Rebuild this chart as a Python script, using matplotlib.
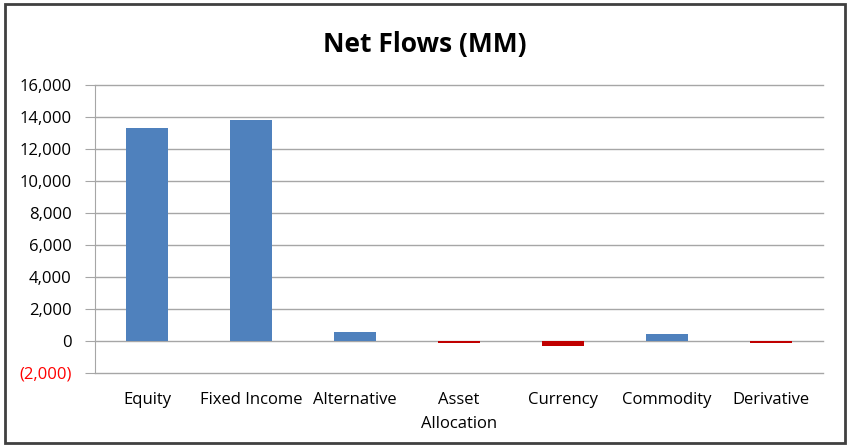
import matplotlib.pyplot as plt
from matplotlib.patches import Rectangle
from matplotlib.ticker import FuncFormatter

categories = ['Equity', 'Fixed Income', 'Alternative', 'Asset\nAllocation',
              'Currency', 'Commodity', 'Derivative']
net_flows = [13300, 13800, 580, -100, -300, 450, -100]
y_ticks = list(range(-2000, 16001, 2000))

plt.rcParams['font.family'] = ['Open Sans', 'DejaVu Sans']

fig = plt.figure(figsize=(8.5, 4.47), dpi=100)
ax = fig.add_axes([0.1118, 0.1656, 0.8565, 0.6442])

colors = ['#4F81BD' if v >= 0 else '#C00000' for v in net_flows]
x = range(len(categories))
ax.bar(x, net_flows, width=0.4, color=colors, zorder=3)

ax.set_xlim(-0.5, len(categories) - 0.5)
ax.set_ylim(-2000, 16000)
ax.set_yticks(y_ticks)
ax.yaxis.set_major_formatter(FuncFormatter(
    lambda v, p: f'({abs(v):,.0f})' if v < 0 else f'{v:,.0f}'))
ax.grid(axis='y', color='#A6A6A6', linewidth=1, zorder=0)
ax.set_axisbelow(True)
for gl in ax.get_ygridlines():
    gl.set_clip_on(False)

ax.set_xticks(list(x))
ax.set_xticklabels(categories, fontsize=12, linespacing=1.6)
ax.tick_params(axis='x', length=0, pad=14)
ax.tick_params(axis='y', length=7, color='#A6A6A6', labelsize=12, pad=10)
for lbl, v in zip(ax.get_yticklabels(), y_ticks):
    if v < 0:
        lbl.set_color('#FF0000')

for s in ['top', 'right', 'bottom']:
    ax.spines[s].set_visible(False)
ax.spines['left'].set_color('#A6A6A6')

fig.text(0.5, 0.90, 'Net Flows (MM)', fontsize=19, fontweight='bold',
         ha='center', va='center')

fig.patches.append(Rectangle((0.006, 0.01), 0.988, 0.98, transform=fig.transFigure,
                             fill=False, edgecolor='#404040', linewidth=2))

fig.savefig('out.png', dpi=100)
